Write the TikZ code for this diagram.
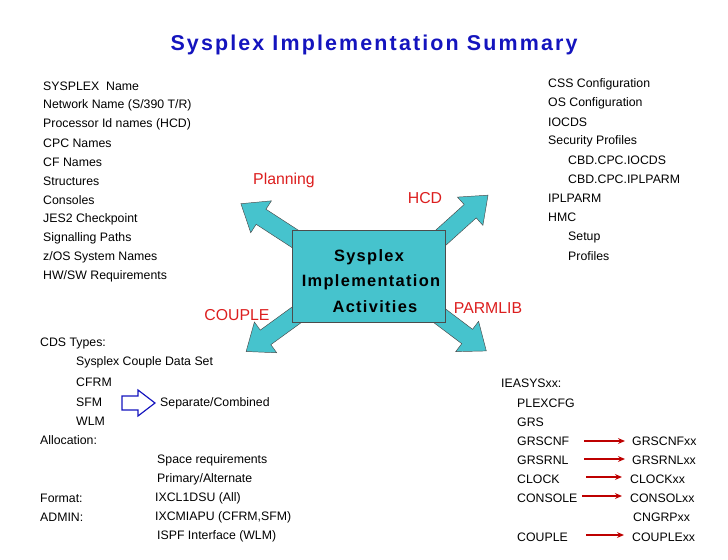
\documentclass[tikz,border=0pt]{standalone}
\usepackage{fontspec}
\setmainfont{Liberation Sans}
\newfontfamily\sptitle[LetterSpace=10]{Liberation Sans}
\newfontfamily\spbox[LetterSpace=8]{Liberation Sans}
\usetikzlibrary{arrows.meta}
\definecolor{ttl}{RGB}{20,20,190}
\definecolor{cy}{RGB}{70,195,205}
\definecolor{rd}{RGB}{220,30,30}
\definecolor{dred}{RGB}{190,0,0}
\begin{document}
\begin{tikzpicture}[x=0.03cm,y=-0.03cm,
  txt/.style={anchor=west,inner sep=0pt,font=\fontsize{10.5}{12}\selectfont},
  lbl/.style={inner sep=0pt,text=rd,font=\fontsize{13.5}{15}\selectfont},
  blk/.style={fill=cy,draw=black!70,line width=0.4pt},
  bx/.style={inner sep=0pt,font=\spbox\bfseries\fontsize{14}{16}\selectfont},
  rarr/.style={draw=dred,line width=1.3pt,-{Stealth[length=6pt,width=5pt]}}]
\useasboundingbox (0,0) rectangle (728,560);
\node[inner sep=0pt,text=ttl,font=\sptitle\bfseries\fontsize{18.3}{21}\selectfont] (title) at (374,45) {Sysplex Implementation Summary};
% left list
\foreach \t [count=\i from 0] in {SYSPLEX\ \ Name,Network Name (S/390 T/R),Processor Id names (HCD),CPC Names,CF Names,Structures,Consoles,JES2 Checkpoint,Signalling Paths,z/OS System Names,HW/SW Requirements}
  \node[txt] (l\i) at (43,86+19*\i) {\t};
% right top list
\node[txt] (r0) at (548,84) {CSS Configuration};
\node[txt] (r1) at (548,103) {OS Configuration};
\node[txt] (r2) at (548,122) {IOCDS};
\node[txt] (r3) at (548,141) {Security Profiles};
\node[txt] (r4) at (568,160) {CBD.CPC.IOCDS};
\node[txt] (r5) at (568,179) {CBD.CPC.IPLPARM};
\node[txt] (r6) at (548,198) {IPLPARM};
\node[txt] (r7) at (548,217) {HMC};
\node[txt] (r8) at (568,237) {Setup};
\node[txt] (r9) at (568,256) {Profiles};
% arrows
\begin{scope}[shift={(303,244)},rotate=147,x=0.03cm,y=0.03cm]
\draw[blk] (0,-9)--(50,-9)--(50,-19)--(74,0)--(50,19)--(50,9)--(0,9)--cycle;\end{scope}
\begin{scope}[shift={(436,242)},rotate=42,x=0.03cm,y=0.03cm]
\draw[blk] (0,-9)--(46,-9)--(46,-19)--(70,0)--(46,19)--(46,9)--(0,9)--cycle;\end{scope}
\begin{scope}[shift={(306,308)},rotate=216,x=0.03cm,y=0.03cm]
\draw[blk] (0,-9)--(50,-9)--(50,-19)--(74,0)--(50,19)--(50,9)--(0,9)--cycle;\end{scope}
\begin{scope}[shift={(432,310)},rotate=-37,x=0.03cm,y=0.03cm]
\draw[blk] (0,-9)--(44,-9)--(44,-19)--(68,0)--(44,19)--(44,9)--(0,9)--cycle;\end{scope}
% box
\node[blk,minimum width=153*0.03cm,minimum height=92*0.03cm,inner sep=0pt] (box) at (368.5,276) {};
\node[bx] (b1) at (369,257) {Sysplex};
\node[bx] (b2) at (371,282) {Implementation};
\node[bx] (b3) at (375,307) {Activities};
\node[lbl] (pl) at (284,180) {Planning};
\node[lbl] (hcd) at (425,198) {HCD};
\node[lbl] (cp) at (237,315) {COUPLE};
\node[lbl] (pm) at (488,308) {PARMLIB};
% bottom left
\node[txt] (c0) at (40,343) {CDS Types:};
\node[txt] (c1) at (76,362) {Sysplex Couple Data Set};
\node[txt] (c2) at (76,382) {CFRM};
\node[txt] (c3) at (76,402) {SFM};
\node[txt] (c4) at (76,421) {WLM};
\node[txt] (c5) at (40,440) {Allocation:};
\node[txt] (c6) at (157,460) {Space requirements};
\node[txt] (c7) at (157,479) {Primary/Alternate};
\node[txt] (c8) at (40,498) {Format:};
\node[txt] (c9) at (155,498) {IXCL1DSU (All)};
\node[txt] (c10) at (40,517) {ADMIN:};
\node[txt] (c11) at (155,517) {IXCMIAPU (CFRM,SFM)};
\node[txt] (c12) at (157,536) {ISPF Interface (WLM)};
\node[txt] (sep) at (160,403) {Separate/Combined};
\draw[draw=ttl,fill=white,line width=1pt] (122,396)--(138,396)--(138,390)--(155,403)--(138,416)--(138,410)--(122,410)--cycle;
% bottom right
\node[txt] (i0) at (501,383) {IEASYSxx:};
\node[txt] (i1) at (517,403) {PLEXCFG};
\node[txt] (i2) at (517,422) {GRS};
\node[txt] (i3) at (517,441) {GRSCNF};
\node[txt] (i4) at (517,460) {GRSRNL};
\node[txt] (i5) at (517,479) {CLOCK};
\node[txt] (i6) at (517,498) {CONSOLE};
\node[txt] (i7) at (517,537) {COUPLE};
\node[txt] (o3) at (632,441) {GRSCNFxx};
\node[txt] (o4) at (632,460) {GRSRNLxx};
\node[txt] (o5) at (630,479) {CLOCKxx};
\node[txt] (o6) at (630,498) {CONSOLxx};
\node[txt] (o7) at (633,517) {CNGRPxx};
\node[txt] (o8) at (632,537) {COUPLExx};
\draw[rarr] (584,441)--(625,441);
\draw[rarr] (584,459)--(625,459);
\draw[rarr] (586,477)--(622,477);
\draw[rarr] (582,496)--(622,496);
\draw[rarr] (586,535)--(624,535);
\end{tikzpicture}
\end{document}
